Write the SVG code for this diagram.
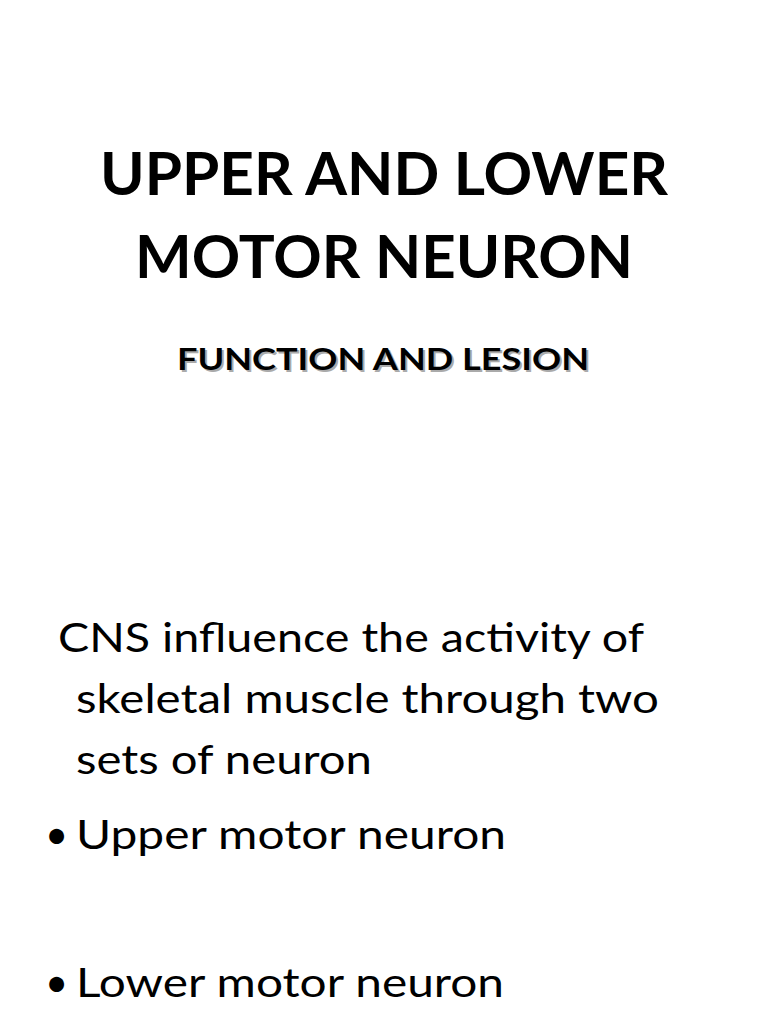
<svg xmlns="http://www.w3.org/2000/svg" width="768" height="1024" viewBox="0 0 768 1024">
<style>
.t{font-family:Lato,"Open Sans",sans-serif;fill:#000}
.h{font-weight:bold;font-size:60px}
.b{font-size:40px}
</style>
<rect width="768" height="1024" fill="#fff"/>
<g id="title">
<text class="t h" x="100" y="195" textLength="568" lengthAdjust="spacingAndGlyphs">UPPER AND LOWER</text>
<text class="t h" x="135" y="278" textLength="498" lengthAdjust="spacingAndGlyphs">MOTOR NEURON</text>
</g>
<g id="subtitle">
<text class="t" x="179" y="372" font-size="30" font-weight="bold" fill="#999" style="fill:#aaa" textLength="412" lengthAdjust="spacingAndGlyphs">FUNCTION AND LESION</text>
<text class="t" x="177" y="370" font-size="30" font-weight="bold" textLength="412" lengthAdjust="spacingAndGlyphs">FUNCTION AND LESION</text>
</g>
<g id="body">
<text class="t b" x="58" y="652" textLength="586" lengthAdjust="spacingAndGlyphs">CNS influence the activity of</text>
<text class="t b" x="76" y="713" textLength="583" lengthAdjust="spacingAndGlyphs">skeletal muscle through two</text>
<text class="t b" x="76" y="774" textLength="296" lengthAdjust="spacingAndGlyphs">sets of neuron</text>
<text class="t b" x="45" y="849">•</text>
<text class="t b" x="76" y="849" textLength="430" lengthAdjust="spacingAndGlyphs">Upper motor neuron</text>
<text class="t b" x="45" y="997">•</text>
<text class="t b" x="76" y="997" textLength="428" lengthAdjust="spacingAndGlyphs">Lower motor neuron</text>
</g>
</svg>
